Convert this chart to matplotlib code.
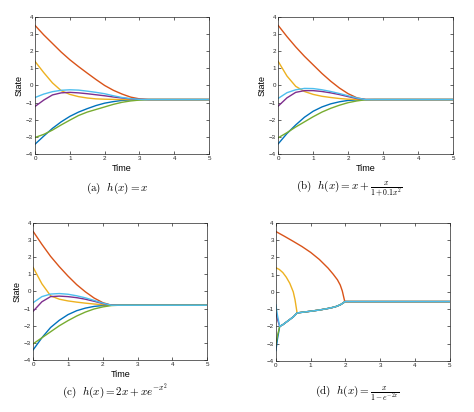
import numpy as np
import matplotlib
matplotlib.use("Agg")
import matplotlib.pyplot as plt

plt.rcParams['mathtext.fontset'] = 'cm'
plt.rcParams['font.family'] = ['Liberation Sans', 'DejaVu Sans']

# MATLAB default line colours, in plotting order
line_names = ['blue', 'red', 'yellow', 'purple', 'green', 'cyan']
line_colors = ['#0072BD', '#D95319', '#EDB120', '#7E2F8E', '#77AC30', '#4DBEEE']

# (a) h(x) = x
t_a = [0, 0.25, 0.5, 0.75, 1, 1.25, 1.5, 1.75, 2, 2.25, 2.5, 2.75, 3, 3.25, 3.5, 5]
a_blue = [-3.42, -2.95, -2.5, -2.12, -1.8, -1.55, -1.35, -1.17, -1.03, -0.94, -0.87, -0.84, -0.82, -0.82, -0.82, -0.82]
a_red = [3.5, 2.95, 2.45, 1.95, 1.5, 1.1, 0.72, 0.35, 0.0, -0.28, -0.5, -0.68, -0.78, -0.82, -0.82, -0.82]
a_yellow = [1.4, 0.75, 0.15, -0.3, -0.52, -0.65, -0.73, -0.78, -0.8, -0.81, -0.82, -0.82, -0.82, -0.82, -0.82, -0.82]
a_purple = [-1.22, -0.85, -0.55, -0.43, -0.4, -0.43, -0.48, -0.54, -0.6, -0.67, -0.73, -0.78, -0.81, -0.82, -0.82, -0.82]
a_green = [-3.03, -2.85, -2.6, -2.3, -2.02, -1.75, -1.55, -1.4, -1.25, -1.1, -0.98, -0.9, -0.85, -0.82, -0.82, -0.82]
a_cyan = [-0.7, -0.5, -0.36, -0.28, -0.25, -0.27, -0.33, -0.4, -0.48, -0.6, -0.7, -0.77, -0.81, -0.82, -0.82, -0.82]

# (b) h(x) = x + x/(1+0.1x^2)
t_b = [0, 0.25, 0.5, 0.75, 1, 1.25, 1.5, 1.75, 2, 2.25, 2.5, 2.75, 5]
b_blue = [-3.4, -2.8, -2.3, -1.85, -1.5, -1.25, -1.07, -0.95, -0.87, -0.84, -0.82, -0.82, -0.82]
b_red = [3.5, 2.85, 2.25, 1.7, 1.2, 0.7, 0.25, -0.15, -0.48, -0.72, -0.82, -0.82, -0.82]
b_yellow = [1.4, 0.55, -0.05, -0.35, -0.52, -0.63, -0.7, -0.76, -0.8, -0.81, -0.82, -0.82, -0.82]
b_purple = [-1.2, -0.72, -0.4, -0.3, -0.3, -0.35, -0.43, -0.53, -0.65, -0.76, -0.82, -0.82, -0.82]
b_green = [-3.05, -2.75, -2.42, -2.12, -1.82, -1.55, -1.33, -1.15, -1.0, -0.9, -0.83, -0.82, -0.82]
b_cyan = [-0.75, -0.42, -0.25, -0.17, -0.18, -0.25, -0.35, -0.47, -0.6, -0.73, -0.82, -0.82, -0.82]

# (c) h(x) = 2x + x e^{-x^2}
t_c = [0, 0.25, 0.5, 0.75, 1, 1.25, 1.5, 1.75, 2, 2.25, 2.5, 5]
c_blue = [-3.4, -2.7, -2.1, -1.68, -1.35, -1.12, -0.97, -0.87, -0.82, -0.8, -0.8, -0.8]
c_red = [3.5, 2.75, 2.05, 1.45, 0.9, 0.4, -0.02, -0.38, -0.65, -0.8, -0.8, -0.8]
c_yellow = [1.4, 0.45, -0.25, -0.45, -0.55, -0.62, -0.68, -0.73, -0.77, -0.8, -0.8, -0.8]
c_purple = [-1.15, -0.6, -0.3, -0.27, -0.3, -0.36, -0.45, -0.57, -0.7, -0.8, -0.8, -0.8]
c_green = [-3.05, -2.7, -2.35, -2.0, -1.7, -1.43, -1.2, -1.02, -0.9, -0.82, -0.8, -0.8]
c_cyan = [-0.65, -0.3, -0.15, -0.12, -0.16, -0.25, -0.37, -0.52, -0.68, -0.8, -0.8, -0.8]

# (d) h(x) = x/(1-e^{-2x})  -- finite-time merging, lines share values after they meet
t_d_early = [0, 0.05, 0.11, 0.2, 0.3, 0.4, 0.5, 0.61, 0.8, 1.0, 1.25, 1.5, 1.7, 1.85, 1.95, 1.98, 5]
d_blue = [-3.4, -2.68, -2.0, -1.9, -1.75, -1.6, -1.45, -1.22, -1.17, -1.12, -1.05, -0.96, -0.87, -0.75, -0.62, -0.56, -0.56]
d_purple = [-1.2, -1.62, -2.0, -1.9, -1.75, -1.6, -1.45, -1.22, -1.17, -1.12, -1.05, -0.96, -0.87, -0.75, -0.62, -0.56, -0.56]
d_green = [-3.05, -2.5, -2.0, -1.9, -1.75, -1.6, -1.45, -1.22, -1.17, -1.12, -1.05, -0.96, -0.87, -0.75, -0.62, -0.56, -0.56]
d_cyan = [-0.75, -1.4, -2.0, -1.9, -1.75, -1.6, -1.45, -1.22, -1.17, -1.12, -1.05, -0.96, -0.87, -0.75, -0.62, -0.56, -0.56]
t_d_yellow = [0, 0.1, 0.2, 0.3, 0.4, 0.5, 0.55, 0.61, 0.8, 1.0, 1.25, 1.5, 1.7, 1.85, 1.95, 1.98, 5]
d_yellow = [1.4, 1.3, 1.12, 0.85, 0.5, 0.0, -0.45, -1.22, -1.17, -1.12, -1.05, -0.96, -0.87, -0.75, -0.62, -0.56, -0.56]
t_d_red = [0, 0.25, 0.5, 0.75, 1, 1.25, 1.5, 1.65, 1.77, 1.85, 1.91, 1.95, 1.98, 5]
d_red = [3.5, 3.22, 2.93, 2.63, 2.29, 1.88, 1.38, 1.02, 0.7, 0.4, 0.05, -0.3, -0.56, -0.56]

captions = [r'$\mathrm{(a)}\ \ h(x) = x$',
            r'$\mathrm{(b)}\ \ h(x) = x + \frac{x}{1+0.1x^2}$',
            r'$\mathrm{(c)}\ \ h(x) = 2x + xe^{-x^2}$',
            r'$\mathrm{(d)}\ \ h(x) = \frac{x}{1-e^{-2x}}$']

panels = [
    ([t_a] * 6, [a_blue, a_red, a_yellow, a_purple, a_green, a_cyan], True),
    ([t_b] * 6, [b_blue, b_red, b_yellow, b_purple, b_green, b_cyan], True),
    ([t_c] * 6, [c_blue, c_red, c_yellow, c_purple, c_green, c_cyan], True),
    ([t_d_early, t_d_red, t_d_yellow, t_d_early, t_d_early, t_d_early],
     [d_blue, d_red, d_yellow, d_purple, d_green, d_cyan], False),
]

# axes boxes [left, bottom, width, height] in figure fractions
boxes = [[0.074, 0.626, 0.367, 0.333],
         [0.587, 0.626, 0.369, 0.333],
         [0.070, 0.126, 0.367, 0.333],
         [0.582, 0.124, 0.367, 0.335]]
caption_pos = [(0.247, 0.543), (0.738, 0.543), (0.243, 0.051), (0.753, 0.046)]

fig = plt.figure(figsize=(4.74, 4.12), dpi=100)

for i, (times, series, labelled) in enumerate(panels):
    ax = fig.add_axes(boxes[i])
    for t, v, c in zip(times, series, line_colors):
        ax.plot(t, v, color=c, lw=1.0)
    ax.set_xlim(0, 5)
    ax.set_ylim(-4, 4)
    ax.set_xticks(range(0, 6))
    ax.set_yticks(range(-4, 5))
    ax.tick_params(direction='in', length=2, width=0.5, labelsize=4.5, pad=1.5,
                   top=True, right=True, colors='#262626')
    for s in ax.spines.values():
        s.set_linewidth(0.5)
        s.set_color('#262626')
    if labelled:
        ax.set_xlabel('Time', fontsize=6.5, labelpad=2)
        ax.set_ylabel('State', fontsize=6.5, labelpad=2)
    fig.text(caption_pos[i][0], caption_pos[i][1], captions[i], fontsize=8,
             ha='center', va='center')

fig.savefig('out.png', dpi=100)
